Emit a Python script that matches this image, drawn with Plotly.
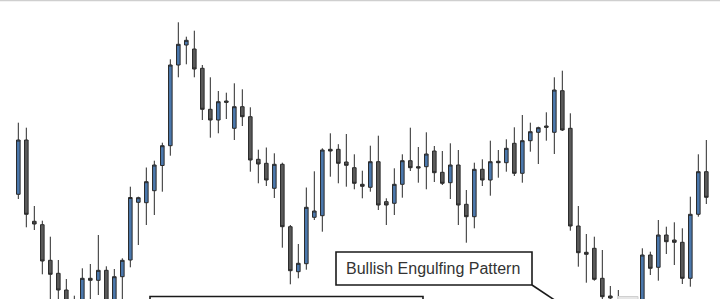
import plotly.graph_objects as go

# candle index (time), OHLC in price units
idx = list(range(87))
open_ = [105.7, 160, 78.7, 75.3, 39.7, 26.7, 10, -2, -8, 21.7,
         19.7, 29.7, -2, 23.3, 40, 97.7, 97.3, 109.3, 134.5, 154.3,
         235, 255, 251, 231.7, 190.7, 180, 199, 171.7, 193.3, 183.3,
         140.7, 136.7, 111.7, 135.7, 73.3, 28.3, 36.3, 82.7, 84.3, 150.7,
         150.7, 138, 132.3, 115.7, 112.7, 138.3, 98.3, 96.7, 115.7, 139.3,
         133.3, 133.3, 149, 127.7, 117.3, 135, 95.7, 83.3, 130.7, 120,
         138.7, 137.3, 156.7, 126.7, 159.3, 167.7, 174, 167.7, 209.3, 171.7,
         74, 47.7, 51.7, 21.7, 4, -2, -5, -5, -5, 45,
         32.7, 65, 60, 57.7, 21.7, 85.7, 128.3]
high = [177.3, 172.3, 94, 79.3, 63.3, 40, 21, 4.3, 31.7, 36,
        65, 33.7, 31, 41.7, 113.3, 103.3, 132.5, 139.3, 157.3, 240.7,
        277.7, 263.3, 269.3, 235, 222.7, 209, 207.3, 216.7, 210.7, 192.7,
        150.3, 152.5, 146.7, 137.3, 75, 56, 112.5, 128.7, 151.7, 166.7,
        155.8, 166, 145.7, 129.3, 154.3, 164.3, 101.7, 131.7, 145.7, 172.3,
        153, 167.7, 154, 149, 156.7, 150, 110, 137.3, 140.7, 159.3,
        150, 160.7, 172.7, 185, 177.3, 173.3, 187.7, 222.7, 229.3, 186.7,
        94, 66, 63.3, 50, 14, 10, -2, -2, 51.7, 48.3,
        80, 73.3, 77.7, 71.7, 103.3, 145.7, 160]
low = [101, 72.7, 70, 25.7, -5, -15, -20, -25, -20, -5,
       5, -15, -10, -3, 32.7, 55, 75, 85, 108.3, 144.3,
       222.7, 235.7, 222.7, 180, 162.3, 166.7, 181, 160, 174, 128.3,
       116.7, 114, 102, 52.3, 15.7, 21.7, 30.3, 80, 68.3, 123.3,
       116.7, 113.3, 110.7, 101.7, 108.3, 90, 75, 85, 102.3, 129,
       117.3, 110.7, 118, 115, 101, 75, 57.3, 71.7, 114, 104.3,
       122.3, 128.3, 124, 117.3, 148.3, 136, 159.3, 146, 169, 69.3,
       33.3, 17.3, 19.3, -10, -10, -15, -25, -25, -15, 25,
       19.3, 46, 35, 16, 13.3, 83.3, 96]
close = [160, 85.7, 76, 39, 25.7, 10, -5, -10, 21.7, 19.7,
         29.7, -3, 23.3, 39.7, 102.5, 102.3, 118.3, 135, 154.3, 235,
         255.7, 259.7, 231, 190.7, 180, 198.3, 197.7, 193.3, 183.3, 140,
         136, 120, 135.7, 73.3, 29.3, 36.7, 92.7, 89, 150, 149,
         136.7, 134.7, 116.7, 113.7, 138.3, 95, 95, 115.7, 139.3, 132.3,
         132, 146, 127.3, 116.7, 135, 95, 83.3, 130.7, 120, 138.3,
         137.3, 151.7, 126.7, 159.3, 168.3, 172.3, 172.7, 210, 170, 74,
         47.3, 45.7, 20.7, 3.3, 2, -4, -15, -15, 45, 31.7,
         65, 58.3, 57.7, 21.7, 85.7, 128.3, 102.7]

label_text = "Bullish Engulfing Pattern"

W, H = 720, 299

def px(x):
    return x / W

def py(y):
    return 1 - y / H

fig = go.Figure()
fig.add_trace(go.Candlestick(
    x=idx, open=open_, high=high, low=low, close=close,
    increasing=dict(fillcolor="#4b78ad", line=dict(color="#2a2a2a", width=1)),
    decreasing=dict(fillcolor="#5a5a5a", line=dict(color="#2a2a2a", width=1)),
    whiskerwidth=0,
    hoverinfo="skip",
    showlegend=False,
))

shapes = [
    # top thin gray line
    dict(type="line", xref="paper", yref="paper", x0=0, x1=1, y0=py(0.5), y1=py(0.5),
         line=dict(color="#cfcfcf", width=1.5)),
    # bullish engulfing box
    dict(type="rect", xref="paper", yref="paper", x0=px(336), x1=px(532), y0=py(285), y1=py(252),
         line=dict(color="#1a1a1a", width=1.6), fillcolor="white"),
    # pointer line
    dict(type="line", xref="paper", yref="paper", x0=px(532), y0=py(285), x1=px(556), y1=py(301),
         line=dict(color="#1a1a1a", width=1.6)),
    # lower box (mostly off-screen)
    dict(type="rect", xref="paper", yref="paper", x0=px(150), x1=px(423), y0=py(310), y1=py(296.5),
         line=dict(color="#1a1a1a", width=1.6), fillcolor="white"),
    # light gray box at right bottom
    dict(type="rect", xref="paper", yref="paper", x0=px(618), x1=px(638), y0=py(310), y1=py(296.5),
         line=dict(color="#d0d0d0", width=1), fillcolor="#e6e6e6"),
]

fig.update_layout(
    width=W, height=H,
    margin=dict(l=0, r=0, t=0, b=0),
    paper_bgcolor="white", plot_bgcolor="white",
    boxgap=0.36,
    shapes=shapes,
    annotations=[dict(text=label_text, xref="paper", yref="paper",
                      x=px(433), y=py(268.5), showarrow=False,
                      font=dict(family="Liberation Sans, Arial, sans-serif", size=16, color="#333333"),
                      xanchor="center", yanchor="middle")],
    xaxis=dict(range=[-2.29, 87.71], visible=False, rangeslider=dict(visible=False), fixedrange=True),
    yaxis=dict(range=[1, 300], visible=False, fixedrange=True),
)

fig.write_html("out.html", config={"displayModeBar": False})
